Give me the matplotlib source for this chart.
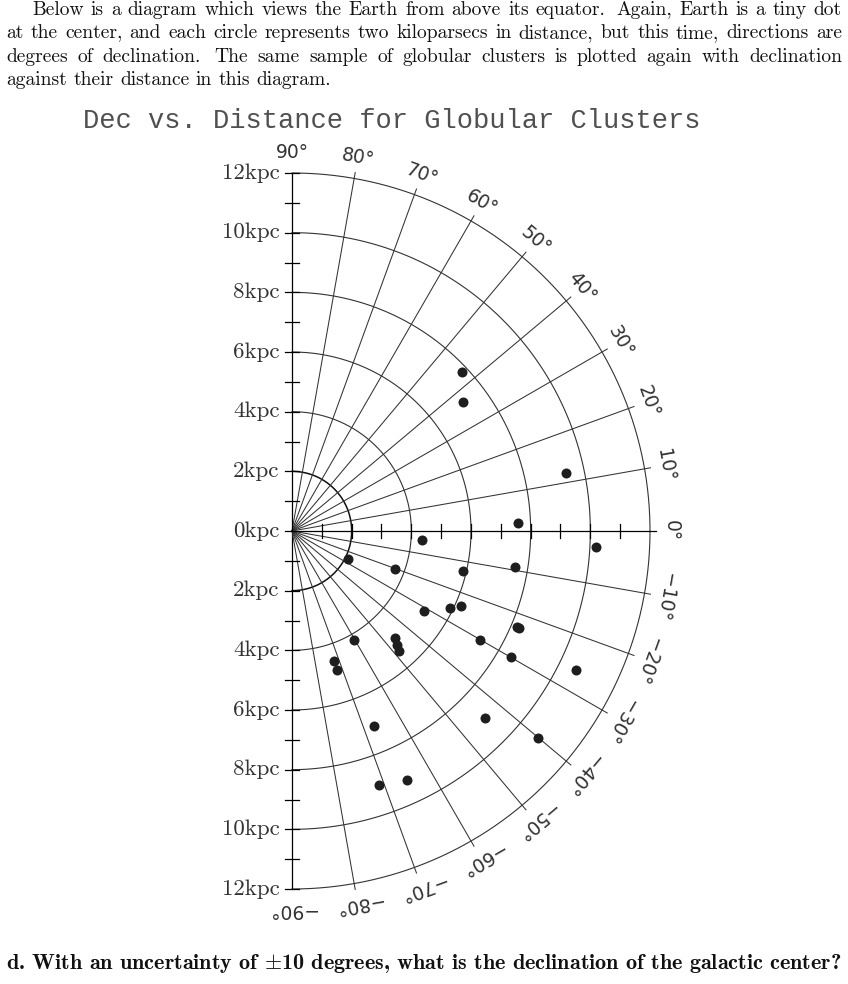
import numpy as np
import matplotlib
matplotlib.use("Agg")
import matplotlib.pyplot as plt

plt.rcParams['mathtext.fontset'] = 'cm'

# figure geometry (pixels)
W, H = 848, 984
CX, CY = 292, 531          # earth (centre of the diagram)
S = 358 / 12.0             # pixels per kpc

# globular clusters: declination (deg) and distance (kpc)
decs = [43.1, 37.1, 12.0, 2.0, -4.1, -3.0, -26.4, -20.2, -13.1, -9.1,
        -31.2, -26.1, -24.0, -23.1, -23.0, -30.1, -30.0, -26.1, -60.2, -46.1,
        -47.3, -48.2, -72.3, -72.2, -44.0, -40.1, -67.1, -71.1, -65.1]
dists = [7.79, 7.19, 9.39, 7.59, 4.38, 10.19, 2.09, 3.68, 5.88, 7.58,
         5.18, 5.89, 6.19, 8.19, 8.28, 7.28, 8.48, 10.59, 4.20, 4.98,
         5.20, 5.40, 4.59, 4.90, 9.00, 10.79, 7.10, 9.00, 9.19]

grid_decs = list(range(-90, 91, 10))
rings = [2, 4, 6, 8, 10, 12]
kpc_labels = [0, 2, 4, 6, 8, 10, 12]

title = "Dec vs. Distance for Globular Clusters"
para = ["Below is a diagram which views the Earth from above its equator. Again, Earth is a tiny dot",
        "at the center, and each circle represents two kiloparsecs in distance, but this time, directions are",
        "degrees of declination. The same sample of globular clusters is plotted again with declination",
        "against their distance in this diagram."]
question = r"d. With an uncertainty of $\pm$10 degrees, what is the declination of the galactic center?"

fig = plt.figure(figsize=(W / 100, H / 100), dpi=100)
ax = fig.add_axes([0, 0, 1, 1])
ax.set_xlim(-CX / S, (W - CX) / S)
ax.set_ylim((CY - H) / S, CY / S)
ax.axis('off')

grid_col = '#333333'
th = np.deg2rad(np.linspace(-90, 90, 500))

# rings
for r in rings:
    ax.plot(r * np.cos(th), r * np.sin(th), color='#111111' if r == 2 else grid_col,
            lw=1.1 if r == 2 else 0.8)

# spokes
for d in grid_decs:
    a = np.deg2rad(d)
    rr = 12.0 if abs(d) == 90 else 12.2
    ax.plot([0, rr * np.cos(a)], [0, rr * np.sin(a)], color='black' if d in (0, 90, -90) else grid_col,
            lw=0.9 if d in (0, 90, -90) else 0.75)
ax.plot([-0.23, 0], [0, 0], color='black', lw=0.9)

# distance ticks on the vertical axis and along 0 deg
for k in range(1, 13):
    for sgn in (1, -1):
        ax.plot([-0.23, 0.25], [sgn * k, sgn * k], color='black', lw=0.9)
for k in range(1, 12):
    ax.plot([k, k], [-0.25, 0.25], color='black', lw=0.9)

for k in kpc_labels:
    for sgn in ((1,) if k == 0 else (1, -1)):
        ax.text(-0.42, sgn * k, "%dkpc" % k, ha='right', va='center',
                family='cmr10', fontsize=16.5, color='#333333')

# declination labels
for d in grid_decs:
    a = np.deg2rad(d)
    lab = ("\u2212%d\u00b0" % -d) if d < 0 else "%d\u00b0" % d
    ax.text(12.7 * np.cos(a), 12.7 * np.sin(a), lab, rotation=d - 90,
            rotation_mode='anchor', ha='center', va='center',
            family='DejaVu Sans', fontsize=13.5, color='#333333')

# clusters
dr = np.deg2rad(decs)
ax.plot(np.array(dists) * np.cos(dr), np.array(dists) * np.sin(dr), 'o',
        ms=7.2, color='#1e1e1e', mec='none')

# ---- text around the diagram ----
rend = fig.canvas.get_renderer()


def fpos(px, py):
    return px / W, 1 - py / H


def width(t):
    return t.get_window_extent(rend).width


t = fig.text(*fpos(83, 128), title, family='Liberation Mono', fontsize=20,
             color='#505050', va='baseline')
t.set_fontsize(20 * 617 / width(t))

# paragraph, justified like the TeX original
fs0 = 14
probe = [fig.text(0, 0, w, family='cmr10', fontsize=fs0) for w in para[1].split(' ')]
wsum = sum(width(p) for p in probe)
for p in probe:
    p.remove()
ngap = len(probe) - 1
space = 0.333 * fs0 * 100 / 72
fs = fs0 * 837 * 0.985 / (wsum + ngap * space)

starts = [32, 6, 6, 6]
bases = [15, 38.3, 61.7, 85]
for i, line in enumerate(para):
    words = line.split(' ')
    objs = [fig.text(0, 0, w, family='cmr10', fontsize=fs, va='baseline', color='#111111')
            for w in words]
    ws = [width(o) for o in objs]
    wts = [1.5 if words[j].endswith('.') else 1.0 for j in range(len(words) - 1)]
    if i < 3:
        gap = (842 - starts[i] - sum(ws)) / sum(wts)
    else:
        gap = 0.333 * fs * 100 / 72
    x = starts[i]
    for j, o in enumerate(objs):
        o.set_position(fpos(x, bases[i]))
        x += ws[j] + (gap * wts[j] if j < len(wts) else 0)

q = fig.text(*fpos(6, 969), question, family='cmb10', fontsize=14, va='baseline',
             color='#111111')
q.set_fontsize(14 * 836 / width(q))

fig.savefig("out.png", dpi=100)
